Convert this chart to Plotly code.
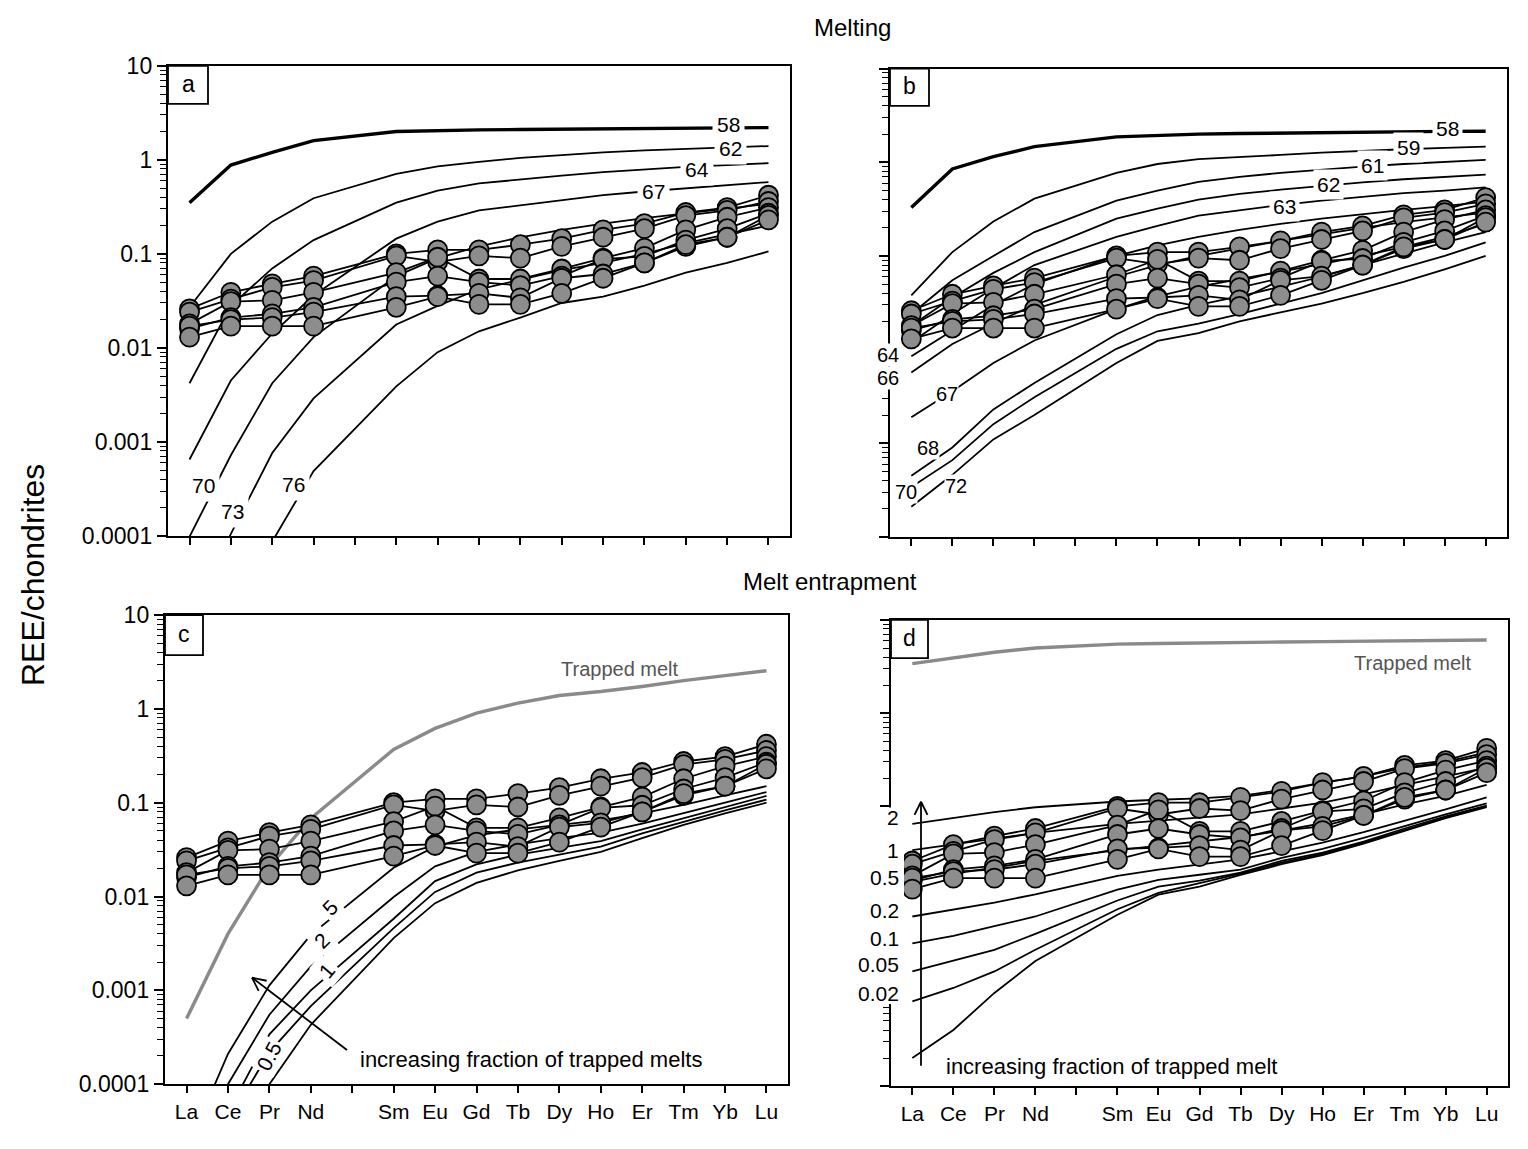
import math
import plotly.graph_objects as go

W, H = 1528, 1149
FONT = "Arial, Liberation Sans, sans-serif"

# ---------------- data ----------------
AXIS_SLOTS = ["La", "Ce", "Pr", "Nd", "", "Sm", "Eu", "Gd", "Tb", "Dy", "Ho", "Er", "Tm", "Yb", "Lu"]
REE = ["La", "Ce", "Pr", "Nd", "Sm", "Eu", "Gd", "Tb", "Dy", "Ho", "Er", "Tm", "Yb", "Lu"]

# measured samples (chondrite-normalised), same in all panels
sample_1 = [0.026, 0.039, 0.048, 0.058, 0.100, 0.110, 0.110, 0.125, 0.145, 0.180, 0.210, 0.275, 0.310, 0.420]
sample_2 = [0.024, 0.033, 0.044, 0.052, 0.095, 0.082, 0.095, 0.090, 0.120, 0.150, 0.185, 0.255, 0.290, 0.360]
sample_3 = [0.018, 0.031, 0.032, 0.039, 0.063, 0.092, 0.054, 0.054, 0.069, 0.090, 0.115, 0.180, 0.245, 0.310]
sample_4 = [0.016, 0.021, 0.023, 0.027, 0.050, 0.058, 0.050, 0.046, 0.058, 0.088, 0.094, 0.140, 0.185, 0.270]
sample_5 = [0.017, 0.020, 0.021, 0.024, 0.035, 0.036, 0.038, 0.034, 0.055, 0.061, 0.080, 0.120, 0.150, 0.257]
sample_6 = [0.013, 0.017, 0.017, 0.017, 0.027, 0.035, 0.029, 0.029, 0.038, 0.055, 0.080, 0.125, 0.150, 0.230]
SAMPLES = [sample_1, sample_2, sample_3, sample_4, sample_5, sample_6]

# panel a: melting residues (% melting)
a_58 = [0.35, 0.88, 1.2, 1.6, 2.0, 2.05, 2.08, 2.1, 2.12, 2.15, 2.18, 2.2, 2.2, 2.2]
a_62 = [0.027, 0.10, 0.22, 0.39, 0.71, 0.85, 0.95, 1.05, 1.12, 1.2, 1.26, 1.31, 1.35, 1.4]
a_64 = [0.0042, 0.028, 0.07, 0.14, 0.35, 0.47, 0.56, 0.62, 0.68, 0.74, 0.79, 0.84, 0.88, 0.92]
a_67 = [0.00065, 0.0045, 0.0142, 0.036, 0.145, 0.22, 0.29, 0.33, 0.37, 0.42, 0.46, 0.5, 0.54, 0.58]
a_70 = [0.000098, 0.00072, 0.0042, 0.013, 0.058, 0.09, 0.12, 0.15, 0.18, 0.21, 0.24, 0.27, 0.3, 0.34]
a_73 = [0.000012, 0.000105, 0.00076, 0.0029, 0.0177, 0.028, 0.042, 0.053, 0.067, 0.08, 0.1, 0.13, 0.16, 0.2]
a_76 = [0.0000025, 0.000014, 0.000087, 0.00049, 0.0039, 0.009, 0.015, 0.021, 0.03, 0.035, 0.046, 0.063, 0.08, 0.106]
A_LINES = [(a_58, 3.4), (a_62, 1.8), (a_64, 1.8), (a_67, 1.8), (a_70, 1.8), (a_73, 1.8), (a_76, 1.8)]

# panel b
b_58 = [0.33, 0.85, 1.15, 1.47, 1.87, 1.95, 2.0, 2.03, 2.06, 2.08, 2.1, 2.12, 2.14, 2.15]
b_59 = [0.038, 0.11, 0.233, 0.41, 0.77, 0.96, 1.08, 1.13, 1.2, 1.27, 1.33, 1.38, 1.43, 1.47]
b_61 = [0.024, 0.055, 0.1, 0.18, 0.39, 0.5, 0.62, 0.7, 0.77, 0.84, 0.9, 0.96, 1.01, 1.06]
b_62 = [0.018, 0.036, 0.066, 0.11, 0.25, 0.32, 0.4, 0.46, 0.51, 0.56, 0.61, 0.66, 0.7, 0.74]
b_63 = [0.012, 0.024, 0.045, 0.08, 0.16, 0.21, 0.27, 0.31, 0.35, 0.39, 0.43, 0.47, 0.5, 0.54]
b_64 = [0.0085, 0.016, 0.03, 0.05, 0.1, 0.13, 0.16, 0.19, 0.22, 0.25, 0.28, 0.31, 0.34, 0.38]
b_66 = [0.0057, 0.0115, 0.019, 0.03, 0.06, 0.08, 0.1, 0.12, 0.145, 0.17, 0.2, 0.23, 0.26, 0.29]
b_67 = [0.0019, 0.0036, 0.0072, 0.0125, 0.027, 0.037, 0.047, 0.056, 0.068, 0.082, 0.1, 0.125, 0.16, 0.22]
b_68 = [0.00045, 0.0009, 0.0023, 0.0044, 0.0146, 0.0234, 0.03, 0.037, 0.047, 0.06, 0.08, 0.105, 0.14, 0.18]
b_70 = [0.00034, 0.00066, 0.0016, 0.0031, 0.0102, 0.0157, 0.019, 0.024, 0.031, 0.04, 0.055, 0.075, 0.1, 0.14]
b_72 = [0.00021, 0.00046, 0.0011, 0.002, 0.0072, 0.0124, 0.015, 0.02, 0.025, 0.031, 0.04, 0.053, 0.072, 0.1]
B_LINES = [(b_58, 3.4), (b_59, 1.8), (b_61, 1.8), (b_62, 1.8), (b_63, 1.8), (b_64, 1.8),
           (b_66, 1.8), (b_67, 1.8), (b_68, 1.8), (b_70, 1.8), (b_72, 1.8)]

# panel c: entrapment of melt (% trapped melt)
c_trapped = [0.0005, 0.004, 0.021, 0.068, 0.37, 0.62, 0.9, 1.15, 1.39, 1.53, 1.73, 2.0, 2.26, 2.55]
c_5 = [0.00002, 0.00021, 0.00113, 0.0039, 0.0203, 0.034, 0.045, 0.052, 0.058, 0.065, 0.077, 0.095, 0.12, 0.15]
c_2 = [0.00001, 0.0001, 0.00055, 0.0018, 0.0099, 0.021, 0.03, 0.036, 0.042, 0.048, 0.06, 0.077, 0.1, 0.13]
c_1 = [0.000005, 0.00005, 0.00034, 0.001, 0.0058, 0.0146, 0.022, 0.028, 0.033, 0.039, 0.052, 0.068, 0.09, 0.118]
c_05 = [0.000004, 0.00004, 0.00022, 0.00068, 0.0046, 0.0112, 0.018, 0.023, 0.028, 0.034, 0.047, 0.063, 0.083, 0.108]
c_0 = [0.000002, 0.00002, 0.0001, 0.00043, 0.0036, 0.0085, 0.014, 0.019, 0.024, 0.03, 0.042, 0.058, 0.077, 0.1]
C_LINES = [c_5, c_2, c_1, c_05, c_0]

# panel d
d_trapped = [3.4, 3.9, 4.5, 5.0, 5.5, 5.6, 5.7, 5.75, 5.8, 5.85, 5.9, 5.95, 6.0, 6.1]
d_2 = [0.065, 0.075, 0.087, 0.098, 0.113, 0.118, 0.122, 0.13, 0.15, 0.18, 0.21, 0.26, 0.3, 0.38]
d_1 = [0.034, 0.039, 0.045, 0.052, 0.065, 0.07, 0.075, 0.082, 0.095, 0.11, 0.135, 0.17, 0.21, 0.26]
d_05 = [0.0155, 0.019, 0.022, 0.026, 0.034, 0.038, 0.042, 0.047, 0.055, 0.066, 0.082, 0.105, 0.13, 0.17]
d_02 = [0.0066, 0.0079, 0.0093, 0.0114, 0.018, 0.021, 0.024, 0.027, 0.033, 0.041, 0.053, 0.07, 0.093, 0.125]
d_01 = [0.0034, 0.0041, 0.0052, 0.0066, 0.0128, 0.0163, 0.0185, 0.021, 0.028, 0.035, 0.046, 0.062, 0.082, 0.108]
d_005 = [0.0017, 0.0022, 0.0029, 0.0043, 0.0098, 0.0138, 0.016, 0.0195, 0.026, 0.032, 0.042, 0.058, 0.078, 0.102]
d_002 = [0.00081, 0.00113, 0.0017, 0.0029, 0.0079, 0.0118, 0.015, 0.019, 0.025, 0.031, 0.041, 0.056, 0.076, 0.1]
d_0 = [0.0002, 0.0004, 0.001, 0.0022, 0.0069, 0.0113, 0.0138, 0.0184, 0.024, 0.03, 0.04, 0.055, 0.075, 0.098]
D_LINES = [d_2, d_1, d_05, d_02, d_01, d_005, d_002, d_0]
D_LABELS = ["2", "1", "0.5", "0.2", "0.1", "0.05", "0.02"]

Y_TICKS = [0.0001, 0.001, 0.01, 0.1, 1, 10]
Y_TICKTEXT = ["0.0001", "0.001", "0.01", "0.1", "1", "10"]

# ---------------- layout helpers ----------------
XPOS = [AXIS_SLOTS.index(e) for e in REE]


def px(x, y):
    return x / W, 1 - y / H


# plot areas in pixels (left, top, right, bottom)
PANELS = {
    "a": dict(box=(168, 54, 790, 535), ax="", labels_y=True, labels_x=False),
    "b": dict(box=(890, 57, 1507, 536), ax="2", labels_y=False, labels_x=False),
    "c": dict(box=(165, 616, 788, 1096), ax="3", labels_y=True, labels_x=True),
    "d": dict(box=(891, 621, 1508, 1098), ax="4", labels_y=False, labels_x=True),
}

fig = go.Figure()


def add_line(panel, vals, width=1.8, color="black"):
    ax = PANELS[panel]["ax"]
    fig.add_trace(go.Scatter(x=XPOS, y=vals, mode="lines",
                             line=dict(color=color, width=width),
                             xaxis="x" + ax, yaxis="y" + ax,
                             showlegend=False, hoverinfo="skip"))


def add_samples(panel):
    ax = PANELS[panel]["ax"]
    for s in SAMPLES:
        fig.add_trace(go.Scatter(x=XPOS, y=s, mode="lines",
                                 line=dict(color="black", width=1.8),
                                 xaxis="x" + ax, yaxis="y" + ax,
                                 showlegend=False, hoverinfo="skip"))
    for s in SAMPLES:
        fig.add_trace(go.Scatter(x=XPOS, y=s, mode="markers",
                                 marker=dict(size=19, color="#8d8d8d",
                                             line=dict(color="black", width=1.8)),
                                 xaxis="x" + ax, yaxis="y" + ax,
                                 showlegend=False, hoverinfo="skip"))


for vals, w in A_LINES:
    add_line("a", vals, w)
add_samples("a")

for vals, w in B_LINES:
    add_line("b", vals, w)
add_samples("b")

add_line("c", c_trapped, 3.4, "#8a8a8a")
for vals in C_LINES:
    add_line("c", vals, 1.8)
add_samples("c")

add_line("d", d_trapped, 3.4, "#8a8a8a")
for vals in D_LINES:
    add_line("d", vals, 1.8)
add_samples("d")

minor_vals = [m * 10 ** e for e in range(-4, 1) for m in range(2, 10)]

layout = dict(width=W, height=H, margin=dict(l=0, r=0, t=0, b=0),
              paper_bgcolor="white", plot_bgcolor="white",
              font=dict(family=FONT, color="black"))

for name, p in PANELS.items():
    l, t, r, b = p["box"]
    ax = p["ax"]
    layout["xaxis" + ax] = dict(
        domain=[l / W, r / W], range=[-0.52, 14.52], anchor="y" + ax,
        tickmode="array", tickvals=list(range(len(AXIS_SLOTS))), ticktext=AXIS_SLOTS,
        showticklabels=p["labels_x"], ticks="outside", ticklen=7, tickwidth=1.6,
        tickcolor="black", tickfont=dict(size=21, family=FONT),
        showline=True, linewidth=2.4, linecolor="black", mirror=True,
        showgrid=False, zeroline=False, fixedrange=True)
    layout["yaxis" + ax] = dict(
        domain=[1 - b / H, 1 - t / H], type="log", range=[-4, 1], anchor="x" + ax,
        tickmode="array", tickvals=Y_TICKS, ticktext=Y_TICKTEXT,
        showticklabels=p["labels_y"], ticks="outside", ticklen=9, tickwidth=1.6,
        tickcolor="black", tickfont=dict(size=23, family=FONT),
        minor=dict(ticks="outside", ticklen=6, tickwidth=1.4, tickcolor="black",
                   tickmode="array", tickvals=minor_vals),
        showline=True, linewidth=2.4, linecolor="black", mirror=True,
        showgrid=False, zeroline=False, fixedrange=True)

shapes = []
annotations = []


def text(t, x, y, size=21, color="black", bg=None, angle=0, xanchor="center", pad=1):
    xp, yp = px(x, y)
    a = dict(text=t, x=xp, y=yp, xref="paper", yref="paper", showarrow=False,
             font=dict(size=size, color=color, family=FONT), textangle=angle,
             xanchor=xanchor, yanchor="middle", borderpad=pad)
    if bg:
        a["bgcolor"] = bg
    annotations.append(a)


def seg(x0, y0, x1, y1, width=1.8):
    a0 = px(x0, y0)
    a1 = px(x1, y1)
    shapes.append(dict(type="line", xref="paper", yref="paper",
                       x0=a0[0], y0=a0[1], x1=a1[0], y1=a1[1],
                       line=dict(color="black", width=width), layer="above"))


def arrow(x0, y0, x1, y1, head=15, width=1.8):
    seg(x0, y0, x1, y1, width)
    ang = math.atan2(y0 - y1, x0 - x1)
    for d in (0.45, -0.45):
        seg(x1, y1, x1 + head * math.cos(ang + d), y1 + head * math.sin(ang + d), width)


# panel letter boxes
for letter, (l, t, r, b) in {"a": (168, 54, 208, 93), "b": (890, 57, 929, 95),
                             "c": (165, 616, 203, 657), "d": (891, 621, 928, 660)}.items():
    x0, y0 = px(l, b)
    x1, y1 = px(r, t)
    shapes.append(dict(type="rect", xref="paper", yref="paper", x0=x0, y0=y0, x1=x1, y1=y1,
                       line=dict(color="black", width=1.8), fillcolor="white", layer="above"))
    text(letter, (l + r) / 2, (t + b) / 2 - 1, size=23)

# break in panel d's y axis behind the fraction labels
x0, y0 = px(858, 1014)
x1, y1 = px(904, 813)
shapes.append(dict(type="rect", xref="paper", yref="paper", x0=x0, y0=y0, x1=x1, y1=y1,
                   line=dict(width=0), fillcolor="white", layer="above"))

# titles
text("Melting", 852, 15, size=24)
text("Melt entrapment", 830, 582, size=24)
text("REE/chondrites", 33, 575, size=32, angle=-90)

# panel a labels
for t_, x, y in [("58", 728, 114), ("62", 730, 139), ("64", 697, 160), ("67", 653, 183),
                 ("70", 203, 483), ("73", 233, 510), ("76", 293, 482)]:
    text(t_, x, y, size=21, bg="white", pad=4)

# panel b labels (right side)
for t_, x, y in [("58", 1447, 118), ("59", 1408, 138), ("61", 1372, 156), ("62", 1328, 175),
                 ("63", 1284, 198)]:
    text(t_, x, y, size=21, bg="white", pad=3)
# panel b labels (left side, tightly stacked)
for t_, x, y in [("64", 888, 350), ("66", 888, 373), ("67", 947, 390),
                 ("68", 928, 445), ("70", 906, 490), ("72", 956, 484)]:
    text(t_, x, y, size=20, bg="white", pad=0)

# panel c labels
text("5", 330, 915, size=21, bg="white", angle=-45, pad=3)
text("2", 322, 949, size=21, bg="white", angle=-45, pad=3)
text("1", 327, 980, size=21, bg="white", angle=-50, pad=3)
text("0.5", 269, 1068, size=21, bg="white", angle=-62, pad=2)
text("Trapped melt", 620, 671, size=20, color="#555555")
text("increasing fraction of trapped melts", 358, 1071, size=22, xanchor="left")
arrow(347, 1061, 252, 987)

# panel d labels
for t_, y in zip(D_LABELS, [823, 857, 885, 918, 947, 974, 1003]):
    text(t_, 901, y, size=21, xanchor="right")
text("Trapped melt", 1413, 665, size=20, color="#555555")
text("increasing fraction of trapped melt", 944, 1078, size=22, xanchor="left")
arrow(921, 1077, 921, 807)

layout["shapes"] = shapes
layout["annotations"] = annotations
fig.update_layout(**layout)
fig.write_html("out.html")
